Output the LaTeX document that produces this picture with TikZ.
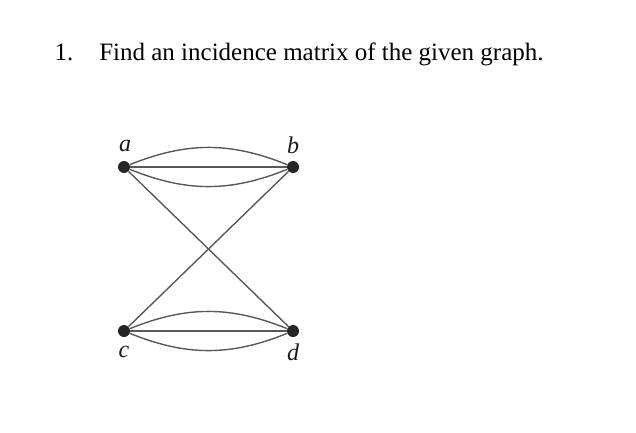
\documentclass[tikz,border=0pt]{standalone}
\usepackage{fontspec}
\setmainfont{Liberation Serif}
\usetikzlibrary{calc}

\begin{document}
\begin{tikzpicture}[x=1pt,y=-1pt,
    vertex/.style ={circle, fill=black!85, inner sep = 0pt, minimum size=12pt},
    vlabel/.style ={font=\fontsize{24}{24}\selectfont\itshape, text=black!90, inner sep=0pt},
    edge/.style ={draw=black!65, line width=1.4pt}]
   \useasboundingbox (0,0) rectangle (636,432);
   \node[anchor=base west, font=\fontsize{25}{25}\selectfont] (title) at (51,60) {1.\hspace{26pt}Find an incidence matrix of the given graph.};

   \node[vertex] (A)  at (124,167)  {};
   \node[vertex] (B)  at (293,167)  {};
   \node[vertex] (C)  at (124,331)  {};
   \node[vertex] (D)  at (293,331)  {};
   \node[vlabel] (la) at (125,146) {a};
   \node[vlabel] (lb) at (293,145) {b};
   \node[vlabel] (lc) at (124,352) {c};
   \node[vlabel] (ld) at (293,352) {d};

   \draw[edge] (A) to  (B);
   \draw[edge] (A) to [bend left = 22] (B);
   \draw[edge] (A) to [bend right = 22] (B);
   \draw[edge] (C) to  (D);
   \draw[edge] (C) to [bend left = 22] (D);
   \draw[edge] (C) to [bend right = 22] (D);
   \draw[edge] (A) to  (D);
   \draw[edge] (B) to  (C);
 \end{tikzpicture}
\end{document}
